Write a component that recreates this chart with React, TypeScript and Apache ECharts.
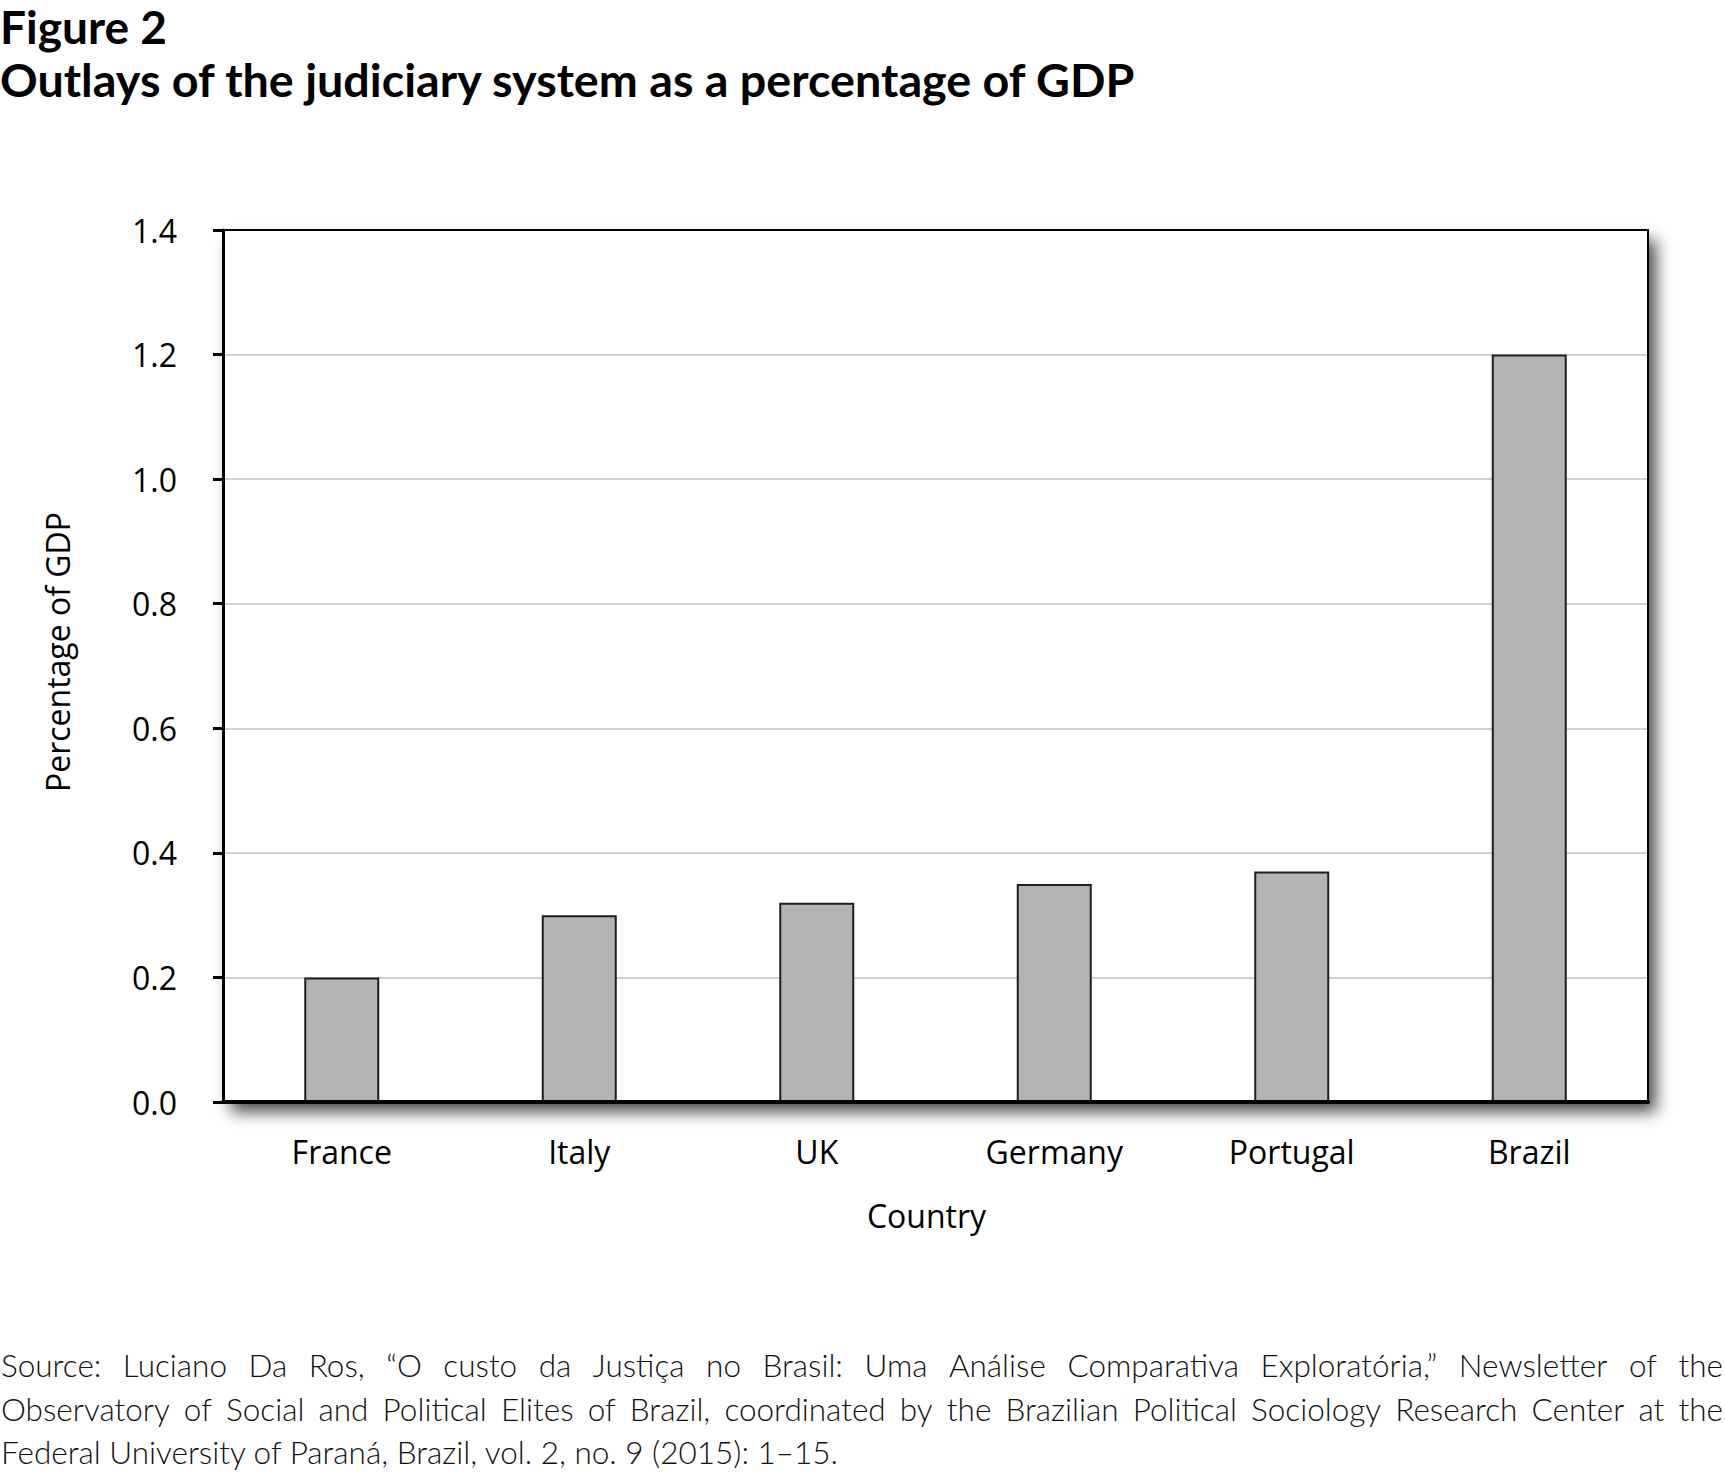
import React, { useEffect, useRef } from 'react'
import * as echarts from 'echarts'

const categories = ['France', 'Italy', 'UK', 'Germany', 'Portugal', 'Brazil']
const outlays = [0.2, 0.3, 0.32, 0.35, 0.37, 1.2]

const yMin = 0
const yMax = 1.4
const yStep = 0.2

const figureLabel = 'Figure 2'
const figureTitle = 'Outlays of the judiciary system as a percentage of GDP'
const xName = 'Country'
const yName = 'Percentage of GDP'

// the last line is not justified
const sourceLines = [
  'Source: Luciano Da Ros, \u201cO custo da Justiça no Brasil: Uma Análise Comparativa Exploratória,\u201d Newsletter of the',
  'Observatory of Social and Political Elites of Brazil, coordinated by the Brazilian Political Sociology Research Center at the',
  'Federal University of Paraná, Brazil, vol. 2, no. 9 (2015): 1\u201315.'
]

const W = 1725
const H = 1477

const AXIS_FONT = '"Open Sans", sans-serif'
const TITLE_FONT = 'Lato, sans-serif'
const SOURCE_SIZE = 31.5
const SOURCE_WEIGHT = 300

const App: React.FC = () => {
  const chartRef = useRef<HTMLDivElement>(null)

  useEffect(() => {
    if (!chartRef.current) return
    const chart = echarts.init(chartRef.current, null, { renderer: 'svg' })

    // 两端对齐的来源文字：逐词排版
    const ctx = document.createElement('canvas').getContext('2d')!
    ctx.font = `${SOURCE_WEIGHT} ${SOURCE_SIZE}px Lato`
    const lineWidth = 1722
    const lineY = [1365, 1409, 1452]
    const sourceTexts: any[] = []
    sourceLines.forEach((line, i) => {
      const style = {
        fontFamily: TITLE_FONT,
        fontSize: SOURCE_SIZE,
        fontWeight: SOURCE_WEIGHT,
        fill: '#111',
        verticalAlign: 'middle',
        align: 'left'
      }
      if (i === sourceLines.length - 1) {
        sourceTexts.push({ type: 'text', x: 1, y: lineY[i], style: { ...style, text: line } })
        return
      }
      const words = line.split(' ')
      const widths = words.map(w => ctx.measureText(w).width)
      const total = widths.reduce((a, b) => a + b, 0)
      const gap = (lineWidth - total) / (words.length - 1)
      let x = 1
      words.forEach((w, j) => {
        sourceTexts.push({ type: 'text', x, y: lineY[i], style: { ...style, text: w } })
        x += widths[j] + gap
      })
    })

    const frameLine = { show: true, onZero: false, lineStyle: { color: '#000', width: 2 } }

    const option = {
      animation: false,
      backgroundColor: '#fff',
      grid: {
        left: 223,
        top: 230,
        right: 77,
        bottom: 375,
        show: true,
        backgroundColor: '#fff',
        borderWidth: 0,
        shadowColor: 'rgba(0,0,0,0.7)',
        shadowBlur: 16,
        shadowOffsetX: 8,
        shadowOffsetY: 10
      },
      xAxis: [
        {
          type: 'category',
          data: categories,
          name: xName,
          nameLocation: 'middle',
          nameGap: 97,
          nameTextStyle: {
            fontFamily: AXIS_FONT,
            fontSize: 32,
            color: '#000',
            padding: [0, 18, 0, 0]
          },
          axisLine: { lineStyle: { color: '#000', width: 4 } },
          axisTick: { show: false },
          axisLabel: { fontFamily: AXIS_FONT, fontSize: 32, color: '#000', margin: 33 },
          z: 8
        },
        {
          // 上边框
          type: 'category',
          position: 'top',
          data: categories,
          axisLine: frameLine,
          axisTick: { show: false },
          axisLabel: { show: false },
          z: 8
        }
      ],
      yAxis: [
        {
          type: 'value',
          min: yMin,
          max: yMax,
          interval: yStep,
          name: yName,
          nameLocation: 'middle',
          nameRotate: 90,
          nameGap: 150,
          nameTextStyle: {
            fontFamily: AXIS_FONT,
            fontSize: 32,
            color: '#000',
            padding: [0, 0, 0, 28]
          },
          axisLine: { show: true, lineStyle: { color: '#000', width: 3 } },
          axisTick: { show: true, length: 10, lineStyle: { color: '#000', width: 3 } },
          axisLabel: {
            fontFamily: AXIS_FONT,
            fontSize: 32,
            color: '#000',
            margin: 46,
            formatter: (v: number) => v.toFixed(1)
          },
          splitLine: { lineStyle: { color: '#d0d0d0', width: 2 } },
          z: 1
        },
        {
          // 右边框
          type: 'value',
          position: 'right',
          min: yMin,
          max: yMax,
          interval: yStep,
          axisLine: frameLine,
          axisTick: { show: false },
          axisLabel: { show: false },
          splitLine: { show: false },
          z: 8
        }
      ],
      series: [
        {
          type: 'bar',
          data: outlays,
          barWidth: 75,
          itemStyle: { color: '#b2b3b5', borderColor: '#1e1e1e', borderWidth: 2 }
        }
      ],
      graphic: [
        {
          type: 'text',
          x: 0,
          y: 26,
          style: {
            text: figureLabel,
            fontFamily: TITLE_FONT,
            fontWeight: 'bold',
            fontSize: 46,
            fill: '#000',
            verticalAlign: 'middle'
          }
        },
        {
          type: 'text',
          x: 0,
          y: 79,
          style: {
            text: figureTitle,
            fontFamily: TITLE_FONT,
            fontWeight: 'bold',
            fontSize: 46.7,
            fill: '#000',
            verticalAlign: 'middle'
          }
        },
        ...sourceTexts
      ]
    }

    chart.setOption(option)
    return () => {
      chart.dispose()
    }
  }, [])

  return (
    <div
      ref={chartRef}
      style={{ position: 'absolute', left: 0, top: 0, width: W, height: H }}
    />
  )
}

export default App
